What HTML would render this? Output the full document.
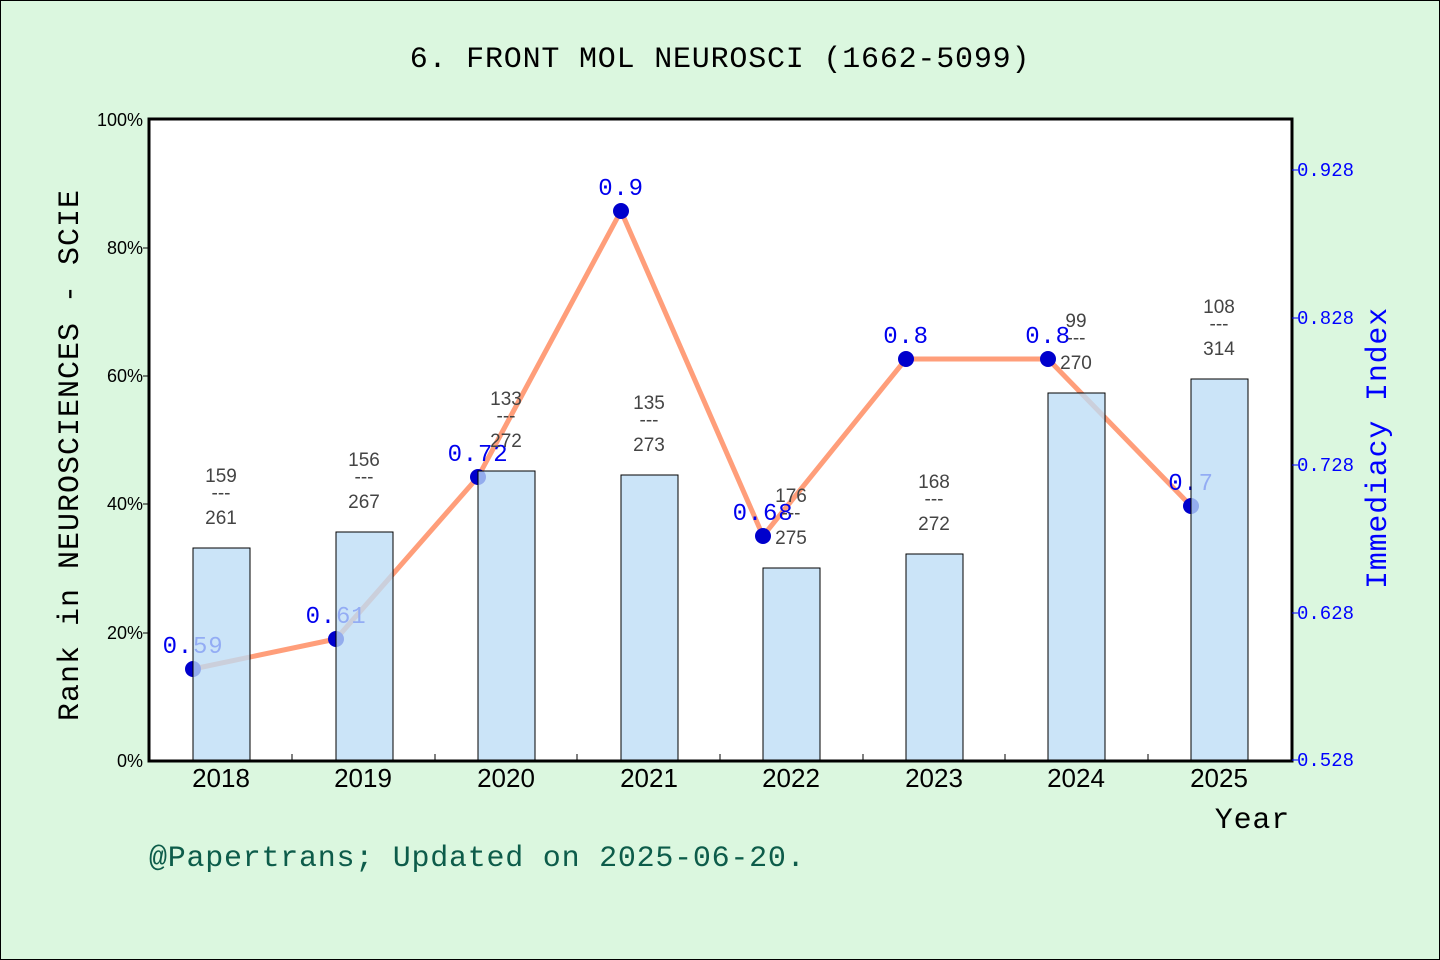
<!DOCTYPE html>
<html><head><style>body{margin:0;background:#dbf7df}</style></head><body>
<svg width="1440" height="960" xmlns="http://www.w3.org/2000/svg" style="display:block">
<rect x="0.5" y="0.5" width="1439" height="959" fill="#dbf7df" stroke="#000"/>
<text x="720" y="67" font-family="Liberation Mono, monospace" font-size="30" letter-spacing="0.8" text-anchor="middle">6. FRONT MOL NEUROSCI (1662-5099)</text>
<rect x="149" y="119" width="1143" height="642" fill="#fff"/>
<polyline points="193,669 336,639 478,477 621,211 763,536 906,359 1048,359 1191,506" fill="none" stroke="#ff9e7a" stroke-width="5" stroke-linejoin="round"/>
<g fill="#0000cc">
<circle cx="193" cy="669" r="8"/><circle cx="336" cy="639" r="8"/><circle cx="478" cy="477" r="8"/><circle cx="621" cy="211" r="8"/><circle cx="763" cy="536" r="8"/><circle cx="906" cy="359" r="8"/><circle cx="1048" cy="359" r="8"/><circle cx="1191" cy="506" r="8"/>
</g>
<g font-family="Liberation Mono, monospace" font-size="24" fill="#0000ee" text-anchor="middle" letter-spacing="0.8">
<text x="193" y="653">0.59</text><text x="336" y="623">0.61</text><text x="478" y="461">0.72</text><text x="621" y="195">0.9</text><text x="763" y="520">0.68</text><text x="906" y="343">0.8</text><text x="1048" y="343">0.8</text><text x="1191" y="490">0.7</text>
</g>
<g fill="#bcdcf6" fill-opacity="0.78" stroke="#000" stroke-width="1">
<rect x="193" y="548" width="57" height="213"/><rect x="336" y="532" width="57" height="229"/><rect x="478" y="471" width="57" height="290"/><rect x="621" y="475" width="57" height="286"/><rect x="763" y="568" width="57" height="193"/><rect x="906" y="554" width="57" height="207"/><rect x="1048" y="393" width="57" height="368"/><rect x="1191" y="379" width="57" height="382"/>
</g>
<g font-family="Liberation Sans, sans-serif" font-size="19" fill="#444" text-anchor="middle">
<text x="221" y="482">159</text><text x="221" y="499">---</text><text x="221" y="524">261</text>
<text x="364" y="466">156</text><text x="364" y="483">---</text><text x="364" y="508">267</text>
<text x="506" y="405">133</text><text x="506" y="422">---</text><text x="506" y="447">272</text>
<text x="649" y="409">135</text><text x="649" y="426">---</text><text x="649" y="451">273</text>
<text x="791" y="502">176</text><text x="791" y="519">---</text><text x="791" y="544">275</text>
<text x="934" y="488">168</text><text x="934" y="505">---</text><text x="934" y="530">272</text>
<text x="1076" y="327">99</text><text x="1076" y="344">---</text><text x="1076" y="369">270</text>
<text x="1219" y="313">108</text><text x="1219" y="330">---</text><text x="1219" y="355">314</text>
</g>
<rect x="149" y="119" width="1143" height="642" fill="none" stroke="#000" stroke-width="3"/>
<g stroke="#000" stroke-width="1">
<line x1="292" y1="761" x2="292" y2="754"/><line x1="435" y1="761" x2="435" y2="754"/><line x1="577" y1="761" x2="577" y2="754"/><line x1="720" y1="761" x2="720" y2="754"/><line x1="863" y1="761" x2="863" y2="754"/><line x1="1005" y1="761" x2="1005" y2="754"/><line x1="1148" y1="761" x2="1148" y2="754"/>
<line x1="149" y1="248" x2="143" y2="248"/><line x1="149" y1="376" x2="143" y2="376"/><line x1="149" y1="504" x2="143" y2="504"/><line x1="149" y1="633" x2="143" y2="633"/>
</g>
<g stroke="#0000ff" stroke-width="1">
<line x1="1292" y1="170" x2="1298" y2="170"/><line x1="1292" y1="318" x2="1298" y2="318"/><line x1="1292" y1="465" x2="1298" y2="465"/><line x1="1292" y1="613" x2="1298" y2="613"/><line x1="1292" y1="760" x2="1298" y2="760"/>
</g>
<g font-family="Liberation Sans, sans-serif" font-size="18" text-anchor="end">
<text x="143" y="126">100%</text><text x="143" y="254">80%</text><text x="143" y="382">60%</text><text x="143" y="510">40%</text><text x="143" y="639">20%</text><text x="143" y="767">0%</text>
</g>
<g font-family="Liberation Mono, monospace" font-size="19" fill="#0000ff">
<text x="1297" y="176">0.928</text><text x="1297" y="324">0.828</text><text x="1297" y="471">0.728</text><text x="1297" y="619">0.628</text><text x="1297" y="766">0.528</text>
</g>
<g font-family="Liberation Sans, sans-serif" font-size="26" text-anchor="middle">
<text x="221" y="787">2018</text><text x="363" y="787">2019</text><text x="506" y="787">2020</text><text x="649" y="787">2021</text><text x="791" y="787">2022</text><text x="934" y="787">2023</text><text x="1076" y="787">2024</text><text x="1219" y="787">2025</text>
</g>
<text x="1290" y="828" font-family="Liberation Mono, monospace" font-size="30" text-anchor="end" letter-spacing="0.8">Year</text>
<text transform="translate(78,455) rotate(-90)" font-family="Liberation Mono, monospace" font-size="30" letter-spacing="1" text-anchor="middle">Rank in NEUROSCIENCES - SCIE</text>
<text transform="translate(1386,448) rotate(-90)" font-family="Liberation Mono, monospace" font-size="30" letter-spacing="0.8" fill="#0000ff" text-anchor="middle">Immediacy Index</text>
<text x="149" y="866" font-family="Liberation Mono, monospace" font-size="30" letter-spacing="0.75" fill="#0d5c4a">@Papertrans; Updated on 2025-06-20.</text>
</svg>
</body></html>
